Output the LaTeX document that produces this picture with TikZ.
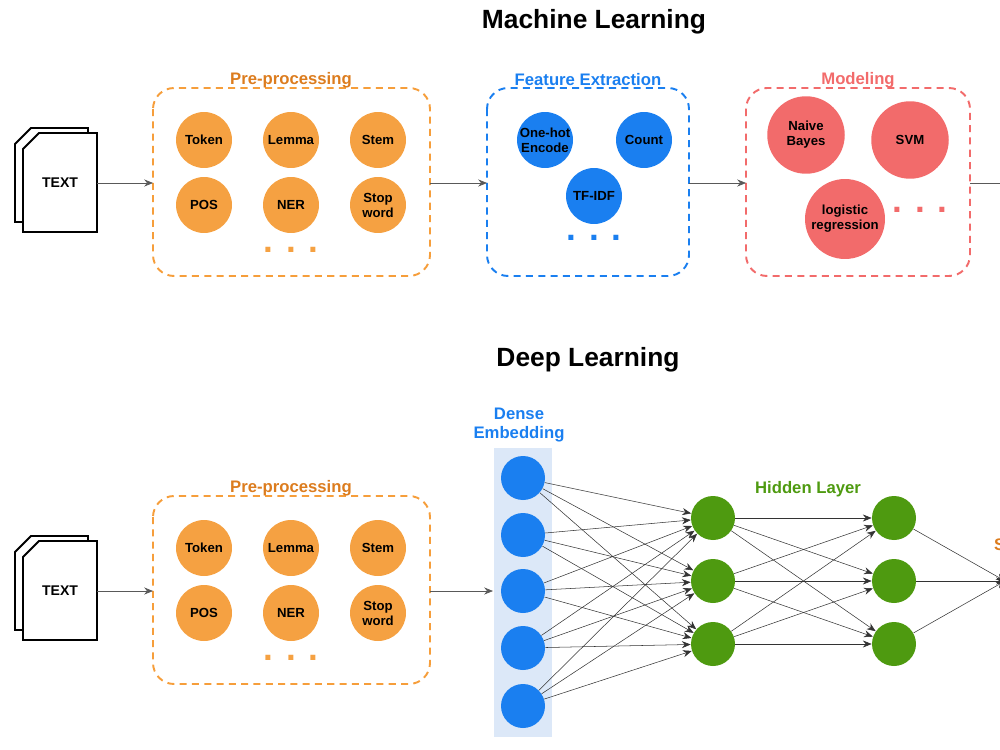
\documentclass[tikz,border=0pt]{standalone}
\usepackage{fontspec}
\setmainfont{Liberation Sans}
\usetikzlibrary{arrows.meta,positioning}
\definecolor{orgC}{HTML}{F5A142}
\definecolor{orgL}{HTML}{DC7C1E}
\definecolor{bluC}{HTML}{1A7FF0}
\definecolor{redC}{HTML}{F26B6B}
\definecolor{grnC}{HTML}{4E9A10}
\definecolor{bandC}{HTML}{DCE8F8}

\begin{document}
\begin{tikzpicture}[
x=0.02cm,y=-0.02cm,
>={Stealth[length=5pt,width=4pt]},
font=\bfseries\sffamily,
circ/.style={
	circle,
	inner sep=0pt,
	minimum size=1.12cm,
	align=center,
	font=\bfseries\fontsize{7.5}{8.5}\selectfont
},
tok/.style={circ,fill=orgC},
feat/.style={circ,fill=bluC},
model/.style={circ,fill=redC,minimum size=1.55cm},
neuron/.style={circle,inner sep=0pt,minimum size=0.88cm},
stage/.style={
	draw,
	line width=1.1pt,
	dash pattern=on 4pt off 3pt,
	rounded corners=12pt
},
stagelabel/.style={font=\bfseries\fontsize{9.5}{11}\selectfont,align=center},
dots/.style={font=\bfseries\fontsize{20}{20}\selectfont},
flow/.style={->,gray!70!black,line width=0.4pt},
link/.style={->,black!80,line width=0.3pt},
title/.style={font=\bfseries\fontsize{15}{18}\selectfont}
]
\useasboundingbox (0,0) rectangle (1000,750);
\clip (0,0) rectangle (1000,750);

% titles
\node[title] (mlt) at (594,22) {Machine Learning};
\node[title] (dlt) at (588,360) {Deep Learning};

% documents and pre-processing, both rows
\foreach \r/\dy in {ml/0,dl/408}{
	\begin{scope}[yshift=-\dy*0.02cm]
	\draw[line width=1.1pt,fill=white] (15,144) -- (31,128) -- (88,128) -- (88,222) -- (15,222) -- cycle;
	\draw[line width=1.1pt,fill=white] (23,149) -- (39,133) -- (97,133) -- (97,232) -- (23,232) -- cycle;
	\node[font=\bfseries\fontsize{8}{9}\selectfont] (\r text) at (60,183) {TEXT};
	\coordinate (\r doc) at (97,183);
	\draw[stage,orgC!90!orange] (153,88) rectangle (430,276);
	\coordinate (\r pin) at (153,183);
	\coordinate (\r pout) at (430,183);
	\node[stagelabel,text=orgL] (\r plab) at (291,80) {Pre-processing};
	\node[tok] (\r tok) at (204,140) {Token};
	\node[tok] (\r lem) at (291,140) {Lemma};
	\node[tok] (\r stem) at (378,140) {Stem};
	\node[tok] (\r pos) at (204,205) {POS};
	\node[tok] (\r ner) at (291,205) {NER};
	\node[tok] (\r stop) at (378,205) {Stop\\word};
	\node[dots,text=orgC] (\r dots) at (291,250) {. . .};
	\end{scope}
	\draw[flow] (\r doc) -- (\r pin);
}

% feature extraction
\draw[stage,bluC] (487,88) rectangle (689,276);
\coordinate (fin) at (487,183);
\coordinate (fout) at (689,183);
\node[stagelabel,text=bluC] (flab) at (588,80) {Feature Extraction};
\node[feat] (onehot) at (545,140) {One-hot\\Encode};
\node[feat] (count) at (644,140) {Count};
\node[feat] (tfidf) at (594,196) {TF-IDF};
\node[dots,text=bluC] (fdots) at (594,238) {. . .};

% modeling
\draw[stage,redC] (746,88) rectangle (970,276);
\coordinate (min) at (746,183);
\coordinate (mout) at (970,183);
\coordinate (mend) at (1010,183);
\node[stagelabel,text=redC] (mlab) at (858,80) {Modeling};
\node[model] (nb) at (806,135) {Naive\\Bayes};
\node[model] (svm) at (910,140) {SVM};
\node[model,minimum size=1.6cm] (lr) at (845,219) {logistic\\regression};
\node[dots,text=redC] (mdots) at (920,210) {. . .};

\draw[flow] (mlpout) -- (fin);
\draw[flow] (fout) -- (min);
\draw[flow] (mout) -- (mend);

% dense embedding
\fill[bandC] (494,448) rectangle (552,737);
\node[stagelabel,text=bluC] (elab) at (519,425) {Dense\\Embedding};
\coordinate (ein) at (493,591);
\draw[flow] (dlpout) -- (ein);
\foreach \i/\y in {1/478,2/535,3/591,4/648,5/706}
	\node[neuron,fill=bluC] (e\i) at (523,\y) {};

% hidden layers
\node[stagelabel,text=grnC] (hlab) at (808,489) {Hidden Layer};
\foreach \i/\y in {1/518,2/581,3/644}{
	\node[neuron,fill=grnC] (h\i) at (713,\y) {};
	\node[neuron,fill=grnC] (g\i) at (894,\y) {};
}
\foreach \i in {1,...,5}
	\foreach \j in {1,2,3}
		\draw[link] (e\i) -- (h\j);
\foreach \i in {1,2,3}
	\foreach \j in {1,2,3}
		\draw[link] (h\i) -- (g\j);

% output
\coordinate (out) at (1005,581);
\node[stagelabel,text=orgL,anchor=west] (olab) at (988,545) {Softmax};
\foreach \i in {1,2,3}
	\draw[link] (g\i) -- (out);
\end{tikzpicture}
\end{document}
